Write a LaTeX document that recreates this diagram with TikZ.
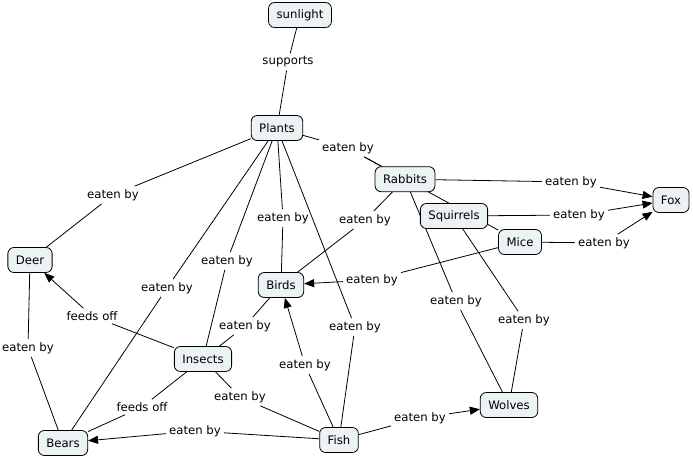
\documentclass[tikz,border=0pt]{standalone}
\usepackage{fontspec}
\setmainfont{DejaVu Sans}
\usetikzlibrary{arrows.meta}
\pgfdeclarelayer{bg}
\pgfsetlayers{bg,main}
\definecolor{cfill}{RGB}{236,243,245}
\begin{document}
\begin{tikzpicture}[x=1pt,y=-1pt,
  concept/.style={draw=black, fill=cfill, rounded corners=6pt, line width=0.8pt,
    minimum height=25pt, inner xsep=8pt, inner ysep=2pt, font=\fontsize{11.7}{14}\selectfont},
  lab/.style={inner sep=3pt, font=\fontsize{11.7}{14}\selectfont},
  con/.style={line width=0.8pt},
  arr/.style={con, -{Triangle[length=10pt,width=8pt]}}]
\useasboundingbox (0,0) rectangle (693,458);
% concepts
\node[concept] (sun) at (300,15) {sunlight};
\node[concept] (plants) at (277,128) {Plants};
\node[concept] (rabbits) at (405,179.2) {Rabbits};
\node[concept] (squirrels) at (454,216) {Squirrels};
\node[concept] (mice) at (520,242) {Mice};
\node[concept] (fox) at (671,200) {Fox};
\node[concept] (deer) at (30,260) {Deer};
\node[concept] (birds) at (281,285) {Birds};
\node[concept] (insects) at (203,359) {Insects};
\node[concept] (bears) at (63,443) {Bears};
\node[concept] (fish) at (339,440) {Fish};
\node[concept] (wolves) at (509,405) {Wolves};
% linking phrases
\node[lab] (l0) at (288,62) {supports};
\node[lab] (l1) at (348,148) {eaten by};
\node[lab] (l2) at (113,195) {eaten by};
\node[lab] (l3) at (167,288) {eaten by};
\node[lab] (l4) at (227,261) {eaten by};
\node[lab] (l5) at (283,218) {eaten by};
\node[lab] (l6) at (355,327) {eaten by};
\node[lab] (l7) at (365,220) {eaten by};
\node[lab] (l8) at (571,182) {eaten by};
\node[lab] (l9) at (579,215) {eaten by};
\node[lab] (l10) at (604,243) {eaten by};
\node[lab] (l11) at (456,301) {eaten by};
\node[lab] (l12) at (524,320) {eaten by};
\node[lab] (l13) at (372,280) {eaten by};
\node[lab] (l14) at (245,326) {eaten by};
\node[lab] (l15) at (305,365) {eaten by};
\node[lab] (l16) at (240,397) {eaten by};
\node[lab] (l17) at (195,431) {eaten by};
\node[lab] (l18) at (420,418) {eaten by};
\node[lab] (l19) at (92,316) {feeds off};
\node[lab] (l20) at (142,407) {feeds off};
\node[lab] (l21) at (28,348) {eaten by};
\begin{pgfonlayer}{bg}
\draw[con] (sun) -- (l0); \draw[con] (l0) -- (plants);
\draw[con] (plants) -- (l1);
\draw[con] (l1) -- (rabbits); \draw[con] (l1) -- (mice);
\draw[con] (plants) -- (l2); \draw[con] (l2) -- (deer);
\draw[con] (plants) -- (l3); \draw[con] (l3) -- (bears);
\draw[con] (plants) -- (l4); \draw[con] (l4) -- (insects);
\draw[con] (plants) -- (l5); \draw[con] (l5) -- (birds);
\draw[con] (plants) -- (l6); \draw[con] (l6) -- (fish);
\draw[con] (rabbits) -- (l7); \draw[con] (l7) -- (birds);
\draw[con] (rabbits) -- (l8); \draw[arr] (l8) -- (fox);
\draw[con] (squirrels) -- (l9); \draw[arr] (l9) -- (fox);
\draw[con] (mice) -- (l10); \draw[arr] (l10) -- (fox);
\draw[con] (rabbits) -- (l11); \draw[con] (l11) -- (wolves);
\draw[con] (squirrels) -- (l12); \draw[con] (l12) -- (wolves);
\draw[con] (mice) -- (l13); \draw[arr] (l13) -- (birds);
\draw[con] (insects) -- (l14); \draw[con] (l14) -- (birds);
\draw[con] (fish) -- (l15); \draw[arr] (l15) -- (birds);
\draw[con] (insects) -- (l16); \draw[con] (l16) -- (fish);
\draw[con] (fish) -- (l17); \draw[arr] (l17) -- (bears);
\draw[con] (fish) -- (l18); \draw[arr] (l18) -- (wolves);
\draw[con] (insects) -- (l19); \draw[arr] (l19) -- (deer);
\draw[con] (insects) -- (l20); \draw[con] (l20) -- (bears);
\draw[con] (deer) -- (l21); \draw[con] (l21) -- (bears);
\end{pgfonlayer}
\end{tikzpicture}
\end{document}
